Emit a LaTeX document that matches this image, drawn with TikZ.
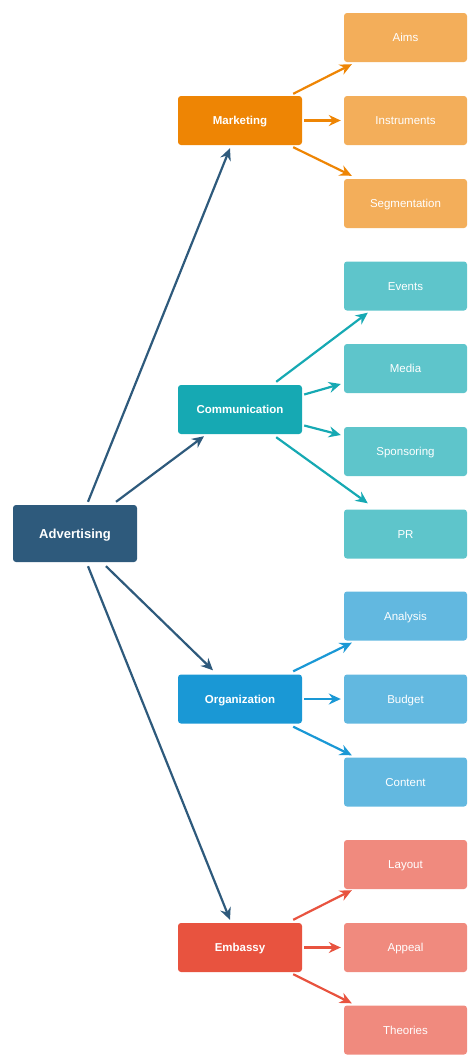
\documentclass[tikz,border=0pt]{standalone}
\usepackage{fontspec}
\setmainfont{Liberation Sans}
\usetikzlibrary{arrows.meta}
\definecolor{advc}{HTML}{2E5A7C}
\definecolor{mkc}{HTML}{EE8504}
\definecolor{mkl}{HTML}{F3AE5A}
\definecolor{coc}{HTML}{16A9B3}
\definecolor{col}{HTML}{5EC5CB}
\definecolor{orc}{HTML}{1A98D5}
\definecolor{orl}{HTML}{62B8E0}
\definecolor{emc}{HTML}{E8533F}
\definecolor{eml}{HTML}{F08A7E}
\tikzset{
  box/.style={rectangle, rounded corners=3pt, minimum width=124pt, minimum height=49pt, inner sep=0pt, text=white, text height=8.2pt, text depth=0pt, font=\fontsize{11.5}{13}\selectfont},
  mainbox/.style={box, font=\fontsize{11.5}{13}\selectfont\bfseries},
  rootbox/.style={box, minimum height=57pt, text height=9.3pt, font=\fontsize{13}{15}\selectfont\bfseries, fill=advc},
  leaf/.style={box, minimum width=123pt},
  arr/.style={line width=2.2pt, -{Stealth[length=12pt,width=11pt,inset=4pt]}},
}
\begin{document}
\begin{tikzpicture}[x=1pt,y=-1pt]
\useasboundingbox (0,0) rectangle (474,1061);
% root
\node[rootbox] (adv) at (75,533.5) {Advertising};
% main
\node[mainbox, fill=mkc] (mk) at (240,120.5) {Marketing};
\node[mainbox, fill=coc] (co) at (240,409.5) {Communication};
\node[mainbox, fill=orc] (or) at (240,699) {Organization};
\node[mainbox, fill=emc] (em) at (240,947.5) {Embassy};
% leaves
\node[leaf, fill=mkl] (aims) at (405.5,37.5) {Aims};
\node[leaf, fill=mkl] (ins) at (405.5,120.5) {Instruments};
\node[leaf, fill=mkl] (seg) at (405.5,203.5) {Segmentation};
\node[leaf, fill=col] (ev) at (405.5,286) {Events};
\node[leaf, fill=col] (me) at (405.5,368.5) {Media};
\node[leaf, fill=col] (sp) at (405.5,451.5) {Sponsoring};
\node[leaf, fill=col] (pr) at (405.5,534) {PR};
\node[leaf, fill=orl] (an) at (405.5,616) {Analysis};
\node[leaf, fill=orl] (bu) at (405.5,699) {Budget};
\node[leaf, fill=orl] (ct) at (405.5,782) {Content};
\node[leaf, fill=eml] (la) at (405.5,864.5) {Layout};
\node[leaf, fill=eml] (ap) at (405.5,947.5) {Appeal};
\node[leaf, fill=eml] (th) at (405.5,1030) {Theories};
% root arrows
\draw[arr, advc] ([xshift=13pt,yshift=3pt]adv.north) -- ([xshift=-10pt,yshift=-3pt]mk.south);
\draw[arr, advc] ([xshift=41pt,yshift=3pt]adv.north) -- ([xshift=-36pt,yshift=-2pt]co.south);
\draw[arr, advc] ([xshift=31pt,yshift=-4pt]adv.south) -- ([xshift=-27pt,yshift=4pt]or.north);
\draw[arr, advc] ([xshift=13pt,yshift=-4pt]adv.south) -- ([xshift=-10pt,yshift=3pt]em.north);
% marketing
\draw[arr, mkc] ([xshift=-9pt,yshift=2pt]mk.north east) -- ([xshift=8pt,yshift=-2pt]aims.south west);
\draw[arr, mkc] ([xshift=2pt]mk.east) -- ([xshift=-3pt]ins.west);
\draw[arr, mkc] ([xshift=-9pt,yshift=-2pt]mk.south east) -- ([xshift=8pt,yshift=3pt]seg.north west);
% communication
\draw[arr, coc] ([xshift=-26pt,yshift=3pt]co.north east) -- ([xshift=24pt,yshift=-2pt]ev.south west);
\draw[arr, coc] ([xshift=2pt,yshift=15pt]co.east) -- ([xshift=-3pt,yshift=-15.5pt]me.west);
\draw[arr, coc] ([xshift=2pt,yshift=-16pt]co.east) -- ([xshift=-3pt,yshift=16.5pt]sp.west);
\draw[arr, coc] ([xshift=-26pt,yshift=-3pt]co.south east) -- ([xshift=24pt,yshift=6pt]pr.north west);
% organization
\draw[arr, orc] ([xshift=-9pt,yshift=3pt]or.north east) -- ([xshift=8pt,yshift=-2pt]an.south west);
\draw[arr, orc] ([xshift=2pt]or.east) -- ([xshift=-3pt]bu.west);
\draw[arr, orc] ([xshift=-9pt,yshift=-3pt]or.south east) -- ([xshift=8pt,yshift=2pt]ct.north west);
% embassy
\draw[arr, emc] ([xshift=-9pt,yshift=3pt]em.north east) -- ([xshift=8pt,yshift=-1pt]la.south west);
\draw[arr, emc] ([xshift=2pt]em.east) -- ([xshift=-3pt]ap.west);
\draw[arr, emc] ([xshift=-9pt,yshift=-2pt]em.south east) -- ([xshift=8pt,yshift=2pt]th.north west);
\end{tikzpicture}
\end{document}
